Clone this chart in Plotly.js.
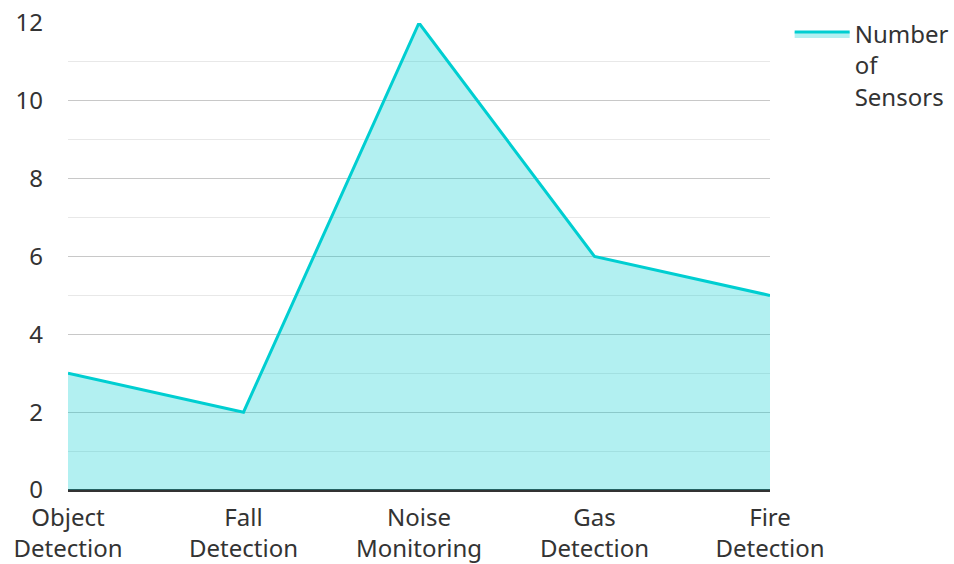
<!DOCTYPE html>
<html><head><meta charset="utf-8">
<script src="https://cdn.plot.ly/plotly-3.0.1.min.js"></script>
<style>html,body{margin:0;padding:0;background:#fff}</style>
</head><body>
<div id="chart" style="width:954px;height:564px"></div>
<script>
const categories = ["Object<br>Detection", "Fall<br>Detection", "Noise<br>Monitoring", "Gas<br>Detection", "Fire<br>Detection"];
const sensorCounts = [3, 2, 12, 6, 5];
const seriesName = "Number<br>of<br>Sensors";

const trace = {
  x: categories,
  y: sensorCounts,
  type: 'scatter',
  mode: 'lines',
  name: seriesName,
  fill: 'tozeroy',
  fillcolor: 'rgba(0,206,209,0.3)',
  line: {color: '#00CED1', width: 3}
};

const layout = {
  width: 954, height: 564,
  margin: {l: 68, r: 184, t: 23, b: 74, autoexpand: false},
  paper_bgcolor: '#fff', plot_bgcolor: '#fff',
  font: {family: '"Noto Sans", "Open Sans", sans-serif', size: 24, color: '#333'},
  showlegend: true,
  legend: {x: 1.028, y: 1.024, xanchor: 'left', yanchor: 'top', valign: 'top', itemwidth: 55,
           font: {size: 24, color: '#333'}},
  xaxis: {
    type: 'category', range: [0, 4], showgrid: false,
    showline: true, linecolor: '#333', linewidth: 2,
    ticks: '', ticklabelstandoff: 5, tickfont: {size: 24, color: '#333'}, automargin: false
  },
  yaxis: {
    range: [0, 12], dtick: 2, tick0: 0, showgrid: true, gridcolor: '#c8c8c8', gridwidth: 1,
    zeroline: true, zerolinecolor: '#333', zerolinewidth: 2,
    minor: {dtick: 1, showgrid: true, gridcolor: '#e8e8e8', gridwidth: 1},
    ticks: '', ticklabelstandoff: 24, tickfont: {size: 24, color: '#333'}, automargin: false
  }
};

Plotly.newPlot('chart', [trace], layout, {displayModeBar: false});
</script>
</body></html>
